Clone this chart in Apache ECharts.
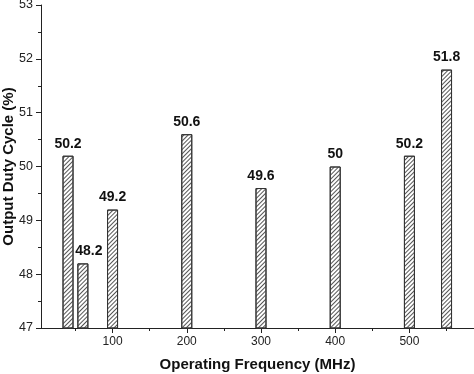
<!DOCTYPE html>
<html>
<head>
<meta charset="utf-8">
<script src="https://cdn.jsdelivr.net/npm/echarts@6/dist/echarts.min.js"></script>
<style>html,body{margin:0;padding:0;background:#fff}#c{width:474px;height:374px}</style>
</head>
<body>
<div id="c"></div>
<script>
const frequencies = [40, 60, 100, 200, 300, 400, 500, 550];
const dutyCycle = [50.2, 48.2, 49.2, 50.6, 49.6, 50, 50.2, 51.8];
const xTickLabels = [100, 200, 300, 400, 500];
const xMinorTicks = [50, 150, 250, 350, 450, 550];

const chart = echarts.init(document.getElementById('c'), null, {renderer: 'canvas'});
const font = 'Liberation Sans, Arial, sans-serif';
const axisLine = {show: true, lineStyle: {color: '#222', width: 1}};
const labelShift = [0, 6, 0, 0, 0, 0, 0, 0];
chart.setOption({
  animation: false,
  backgroundColor: '#fff',
  grid: {left: 41, right: 0, top: 5, bottom: 46, containLabel: false, outerBoundsMode: 'none'},
  xAxis: [{
    type: 'value', min: 3.6, max: 587,
    name: 'Operating Frequency (MHz)', nameLocation: 'middle', nameGap: 29, nameMoveOverlap: false,
    nameTextStyle: {fontFamily: font, fontWeight: 'bold', fontSize: 15, color: '#111'},
    axisLine: axisLine,
    axisTick: {show: true, length: 5, customValues: xTickLabels, lineStyle: {color: '#222'}},
    axisLabel: {show: true, customValues: xTickLabels, margin: 8, fontFamily: font, fontSize: 12, color: '#222'},
    splitLine: {show: false}
  }, {
    type: 'value', min: 3.6, max: 587, position: 'bottom',
    axisLine: {show: false},
    axisTick: {show: true, length: 3, customValues: xMinorTicks, lineStyle: {color: '#222'}},
    axisLabel: {show: false},
    splitLine: {show: false}
  }],
  yAxis: {
    type: 'value', min: 47, max: 53, interval: 1,
    name: 'Output Duty Cycle (%)', nameLocation: 'middle', nameGap: 25, nameMoveOverlap: false,
    nameTextStyle: {fontFamily: font, fontWeight: 'bold', fontSize: 15, color: '#111'},
    axisLine: axisLine,
    axisTick: {show: true, length: 5, lineStyle: {color: '#222'}},
    minorTick: {show: true, splitNumber: 2, length: 3, lineStyle: {color: '#222'}},
    axisLabel: {margin: 8, fontFamily: font, fontSize: 12.5, color: '#222'},
    splitLine: {show: false}
  },
  series: [{
    type: 'bar',
    barWidth: 11,
    data: frequencies.map((f, i) => ({value: [f, dutyCycle[i]], label: {offset: [labelShift[i], 0]}})),
    itemStyle: {
      color: '#fff', borderColor: '#333', borderWidth: 1,
      decal: {symbol: 'rect', symbolSize: 1, color: '#555', dashArrayX: [[1, 0]], dashArrayY: [1, 2], rotation: -Math.PI / 4}
    },
    label: {
      show: true, position: 'top', distance: 5,
      fontFamily: font, fontWeight: 'bold', fontSize: 14, color: '#111',
      formatter: p => String(p.value[1])
    }
  }]
});
</script>
</body>
</html>
